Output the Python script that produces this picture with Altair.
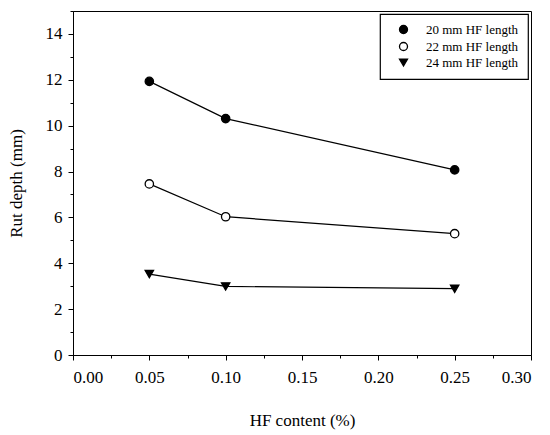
import pandas as pd
import altair as alt

# Rut depth for each hybrid fibre length
hf_content = [0.05, 0.10, 0.25]
rut_20 = [11.93, 10.31, 8.07]
rut_22 = [7.46, 6.03, 5.29]
rut_24 = [3.53, 2.99, 2.89]
series_names = ["20 mm HF length", "22 mm HF length", "24 mm HF length"]

rows = []
for name, vals in zip(series_names, [rut_20, rut_22, rut_24]):
    for x, y in zip(hf_content, vals):
        rows.append({"hf": x, "rut": y, "series": name})
df = pd.DataFrame(rows)

serif = "Liberation Serif"

x_ticks = [round(i * 0.025, 3) for i in range(13)]
y_ticks = list(range(0, 16))

x_enc = alt.X(
    "hf:Q",
    scale=alt.Scale(domain=[0, 0.30], nice=False),
    axis=alt.Axis(
        title="HF content (%)",
        values=x_ticks,
        labelExpr="abs(datum.value*20 - round(datum.value*20)) < 0.001 ? format(datum.value, '.2f') : ''",
        tickSize={"condition": {"test": "abs(datum.value*20 - round(datum.value*20)) < 0.001", "value": 5}, "value": 3},
        labelPadding=9,
        titlePadding=27,
    ),
)
y_enc = alt.Y(
    "rut:Q",
    scale=alt.Scale(domain=[0, 15], nice=False),
    axis=alt.Axis(
        title="Rut depth (mm)",
        values=y_ticks,
        labelExpr="datum.value % 2 === 0 ? datum.label : ''",
        tickSize={"condition": {"test": "datum.value % 2 === 0", "value": 5}, "value": 3},
        labelPadding=6,
        titlePadding=20,
    ),
)

lines = alt.Chart(df).mark_line(color="black", strokeWidth=1.2).encode(
    x=x_enc, y=y_enc, detail="series:N"
)

legend = alt.Legend(symbolStrokeWidth=1.3)

points = alt.Chart(df).mark_point(
    strokeWidth=1.3, opacity=1, fillOpacity=1, size=70
).encode(
    x=x_enc,
    y=y_enc,
    shape=alt.Shape(
        "series:N",
        scale=alt.Scale(domain=series_names, range=["circle", "circle", "triangle-down"]),
        title=None,
        legend=legend,
    ),
    fill=alt.Fill(
        "series:N",
        scale=alt.Scale(domain=series_names, range=["black", "white", "black"]),
        title=None,
        legend=legend,
    ),
    stroke=alt.Stroke(
        "series:N",
        scale=alt.Scale(domain=series_names, range=["black", "black", "black"]),
        title=None,
        legend=legend,
    ),
)

chart = (lines + points).properties(
    width=458,
    height=344,
    autosize=alt.AutoSizeParams(type="none"),
    padding={"left": 65, "top": 3, "right": 11, "bottom": 80},
).configure_view(
    stroke="black", strokeWidth=1
).configure_axis(
    grid=False,
    domainColor="black",
    tickColor="black",
    labelColor="black",
    titleColor="black",
    labelFont=serif,
    titleFont=serif,
    labelFontSize=17,
    titleFontSize=17,
    titleFontWeight="normal",
).configure_legend(
    orient="top-right",
    offset=3,
    strokeColor="black",
    strokeWidth=1.2,
    fillColor="white",
    padding=9,
    symbolOffset=8,
    labelOffset=16,
    labelFont=serif,
    labelFontSize=13,
    labelColor="black",
    symbolSize=64,
    rowPadding=2,
)

chart.save("out.html", embed_options={"renderer": "svg", "actions": False})
